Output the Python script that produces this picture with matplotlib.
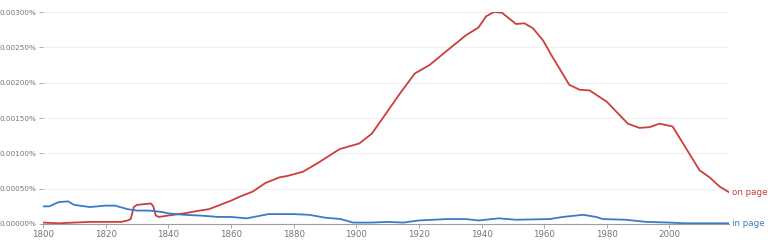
import matplotlib.pyplot as plt

# "on page" series (percent values)
on_years = [1800, 1805, 1810, 1815, 1820, 1825, 1827, 1828, 1829, 1830, 1832, 1834.5, 1835.2, 1836, 1837,
            1840, 1845, 1850, 1853, 1856.5, 1860, 1863, 1867, 1871, 1875.5, 1878, 1883, 1888, 1894.7,
            1901, 1905, 1909.6, 1914, 1918.7, 1923.4, 1930, 1935, 1939, 1941.5, 1944, 1946.5, 1951,
            1953.7, 1956.4, 1959.6, 1962.3, 1968, 1971.3, 1974.5, 1980, 1986.7, 1990.4, 1993.6,
            1996.8, 2001, 2005.3, 2009.6, 2012.8, 2016, 2019]
on_vals = [0.00002, 0.00001, 0.00002, 0.00003, 0.00003, 0.00003, 0.00005, 0.00007, 0.00024, 0.00027,
           0.00028, 0.00029, 0.00025, 0.00012, 0.00010, 0.00012, 0.00015, 0.00019, 0.00021, 0.00027,
           0.00033, 0.00039, 0.00046, 0.00058, 0.00066, 0.00068, 0.00074, 0.00087, 0.00106, 0.00114,
           0.00128, 0.00157, 0.00185, 0.00213, 0.00225, 0.00249, 0.00267, 0.00278, 0.00294, 0.00300,
           0.00299, 0.00283, 0.00284, 0.00277, 0.00260, 0.00239, 0.00197, 0.00190, 0.00189, 0.00173,
           0.00142, 0.00136, 0.00137, 0.00142, 0.00138, 0.00107, 0.00076, 0.00066, 0.00053, 0.00045]

# "in page" series
in_years = [1800, 1802, 1805, 1808, 1810, 1815, 1820, 1823, 1827, 1830, 1834, 1838, 1840, 1845, 1850,
            1856, 1860, 1865, 1872, 1880, 1885, 1890, 1895, 1899, 1905, 1910, 1915, 1920, 1929, 1935,
            1939, 1945.5, 1951, 1961.7, 1966, 1972.4, 1976.6, 1978.7, 1986, 1992.6, 2000, 2005, 2019]
in_vals = [0.00025, 0.00025, 0.00031, 0.00032, 0.00027, 0.00024, 0.00026, 0.00026, 0.00021, 0.00019,
           0.00019, 0.00017, 0.00015, 0.00013, 0.00012, 0.00010, 0.00010, 0.00008, 0.00014, 0.00014,
           0.00013, 0.00009, 0.00007, 0.00002, 0.00002, 0.00003, 0.00002, 0.00005, 0.00007, 0.00007,
           0.00005, 0.00008, 0.00006, 0.00007, 0.00010, 0.00013, 0.00010, 0.00007, 0.00006, 0.00003,
           0.00002, 0.00001, 0.00001]

x_ticks = [1800, 1820, 1840, 1860, 1880, 1900, 1920, 1940, 1960, 1980, 2000]
y_ticks = [0, 0.0005, 0.001, 0.0015, 0.002, 0.0025, 0.003]

red = '#cc3d3d'
blue = '#3a7bc8'
grey = '#757575'

fig = plt.figure(figsize=(7.68, 2.4), dpi=100)
ax = fig.add_axes([43 / 768, 16 / 240, 686 / 768, 212 / 240])

ax.plot(on_years, on_vals, color=red, lw=1.3, solid_joinstyle='round')
ax.plot(in_years, in_vals, color=blue, lw=1.3, solid_joinstyle='round')

ax.text(on_years[-1] + 0.8, on_vals[-1], 'on page', color=red, fontsize=6.3, va='center', ha='left')
ax.text(in_years[-1] + 0.8, in_vals[-1], 'in page', color=blue, fontsize=6.3, va='center', ha='left')

ax.set_xlim(1800, 2019)
ax.set_ylim(0, 0.003)
ax.set_xticks(x_ticks)
ax.set_xticklabels([str(y) for y in x_ticks])
ax.set_yticks(y_ticks)
ax.set_yticklabels(['%.5f%%' % v for v in y_ticks])

ax.grid(axis='y', color='#f0f0f0', lw=0.8)
ax.set_axisbelow(True)
for s in ['top', 'right', 'left']:
    ax.spines[s].set_visible(False)
ax.spines['bottom'].set_color('#9e9e9e')
ax.spines['bottom'].set_linewidth(0.8)
ax.tick_params(axis='both', colors='#9e9e9e', labelcolor=grey, length=3, width=0.6, pad=1.5)
ax.tick_params(axis='y', labelsize=5.2)
ax.tick_params(axis='x', labelsize=6.2)

fig.savefig('out.png', dpi=100)
